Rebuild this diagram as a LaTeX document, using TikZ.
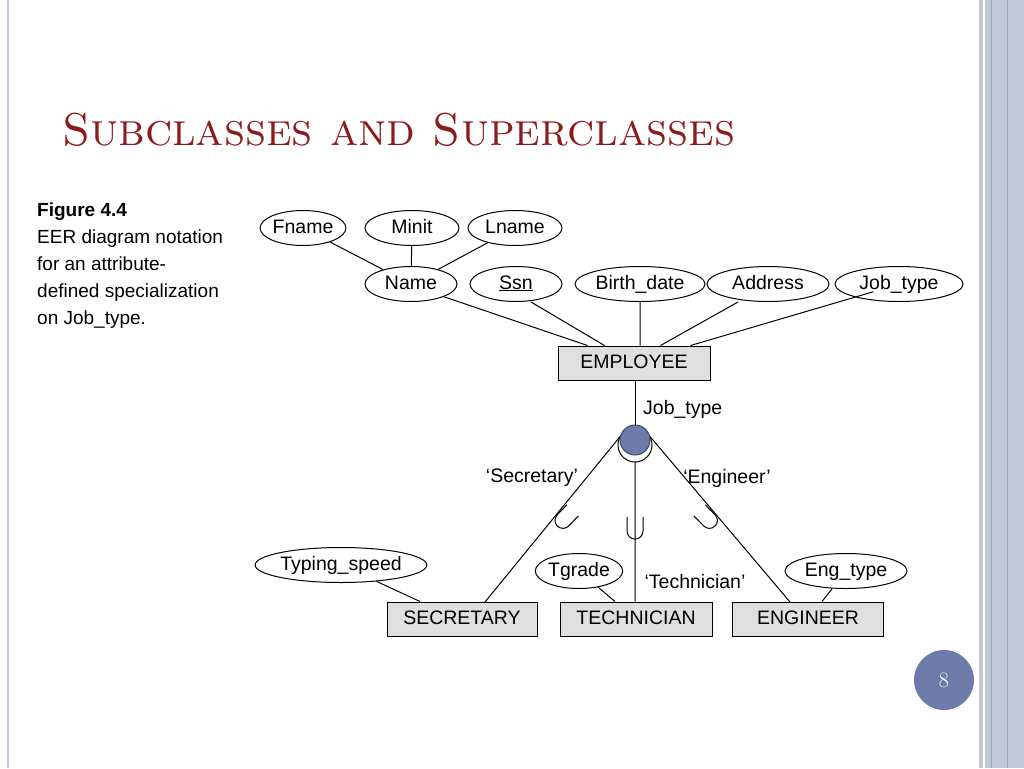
\documentclass[tikz,border=0pt]{standalone}
\usepackage{fontspec}
\setsansfont{Liberation Sans}
\usetikzlibrary{shapes.geometric,calc}
\definecolor{slideblue}{HTML}{6E7AA8}
\definecolor{stripe}{HTML}{C3C7D7}
\definecolor{titlered}{HTML}{8B1A1A}
\tikzstyle{attr} = [ellipse, draw, line width=1pt, fill=white, inner sep=0pt,
    minimum height=35pt, text height=14pt, text depth=4pt, font=\sffamily\fontsize{19.5}{19.5}\selectfont]
\tikzstyle{entity} = [rectangle, draw, line width=1pt, fill=gray!25, inner sep=0pt,
    minimum height=34pt, text height=14pt, text depth=4pt, font=\sffamily\fontsize{19.5}{19.5}\selectfont]
\tikzstyle{lbl} = [font=\sffamily\fontsize{19.5}{19.5}\selectfont, inner sep=0pt]
\tikzstyle{link} = [draw, line width=1pt]
\begin{document}
\begin{tikzpicture}[x=1pt,y=-1pt]
	\useasboundingbox (0,0) rectangle (1024,768);
	% slide frame
	\fill[stripe] (979,0) rectangle (1024,768);
	\draw[white, line width=2pt] (984,0) -- (984,768);
	\draw[slideblue!70, line width=1pt] (991,0) -- (991,768);
	\draw[slideblue!70, line width=1pt] (1007,0) -- (1007,768);
	\draw[stripe, line width=2pt] (8,0) -- (8,768);
	\node [anchor=west, inner sep=0pt, text=titlered, font=\fontsize{46}{46}\selectfont] (title) at (62,130) {\textsc{Subclasses and Superclasses}};
	% caption
	\node [anchor=north west, inner sep=0pt, align=left, font=\sffamily\fontsize{19}{26.8}\selectfont] (cap) at (37,203)
		{\textbf{Figure 4.4}\\EER diagram notation\\for an attribute-\\defined specialization\\on Job\_type.};
	% attributes
	\node [attr, minimum width=80pt] (fname) at (303,228) {Fname};
	\node [attr, minimum width=94pt] (minit) at (412,228) {Minit};
	\node [attr, minimum width=94pt] (lname) at (515,228) {Lname};
	\node [attr, minimum width=92pt] (name) at (411,284) {Name};
	\node [attr, minimum width=92pt] (ssn) at (516,284) {\underline{Ssn}};
	\node [attr, minimum width=130pt] (bdate) at (640,284) {Birth\_date};
	\node [attr, minimum width=122pt] (addr) at (768,284) {Address};
	\node [attr, minimum width=128pt] (jtype) at (899,284) {Job\_type};
	% entities
	\node [entity, minimum width=152pt] (emp) at (634,363) {EMPLOYEE};
	\node [entity, minimum width=150pt] (sec) at (462,619) {SECRETARY};
	\node [entity, minimum width=152pt] (tech) at (636,619) {TECHNICIAN};
	\node [entity, minimum width=151pt] (eng) at (808,619) {ENGINEER};
	\node [attr, minimum width=156pt] (tspeed) at (341,565) {Typing\_speed};
	\node [attr, minimum width=82pt] (tgrade) at (579,571) {Tgrade};
	\node [attr, minimum width=122pt] (etype) at (846,571) {Eng\_type};
	% links
	\path [link] (fname) -- (name) (minit) -- (name) (lname) -- (name);
	\path [link] (name.south east) -- ($(emp.north west)+(30,0)$)
		(ssn.south) ++(15,0) -- ($(emp.north west)+(47,0)$)
		(bdate.south) -- (bdate.south |- emp.north)
		(addr.south) ++(-30,0) -- ($(emp.north east)+(-50,0)$)
		(jtype.south west) ++(20,-5) -- ($(emp.north east)+(-20,0)$);
	\coordinate (d) at (635,445);
	\draw [line width=1pt, fill=white] (d) circle (17);
	\path [link] (emp.south -| d) -- (635,427);
	\coordinate (psec) at (485,602);
	\coordinate (peng) at (790,602);
	\path [link] (d) ++(226:17) -- (psec) (d) ++(0,17) -- (tech.north -| d) (d) ++(314:17) -- (peng);
	\fill [slideblue] (635,440) circle (15);
	\draw [slideblue!60!black, line width=1pt] (635,440) circle (15);
	\path [link] (tspeed) -- (sec.north -| 420,0) (tgrade) -- (tech.north -| 615,0) (etype) -- (eng.north -| 822,0);
	% subset marks
	\coordinate (usec) at ($(d)!0.48!(psec)$);
	\coordinate (utech) at ($(d)!0.55!(tech.north -| d)$);
	\coordinate (ueng) at ($(d)!0.48!(peng)$);
	\foreach \u/\r in {usec/46.3, utech/90, ueng/134.6}
		\draw [line width=1pt, shift={(\u)}, rotate=\r] (14,8) -- (0,8) arc (90:270:8) -- (14,-8);
	% labels
	\node [lbl, anchor=west] (ljt) at (643,409) {Job\_type};
	\node [lbl] (lsec) at (532,478) {`Secretary'};
	\node [lbl] (leng) at (727,478) {`Engineer'};
	\node [lbl] (ltech) at (695,582) {`Technician'};
	% page number
	\node [circle, fill=slideblue, minimum size=60pt, text=white, font=\fontsize{22}{22}\selectfont] (pg) at (944,680) {8};
\end{tikzpicture}
\end{document}
